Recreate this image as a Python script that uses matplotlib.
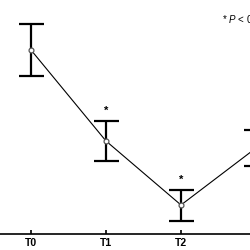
import matplotlib
matplotlib.use("Agg")
import matplotlib.pyplot as plt

plt.rcParams['font.family'] = ['Liberation Sans', 'DejaVu Sans']
plt.rcParams['mathtext.fontset'] = 'custom'
plt.rcParams['mathtext.it'] = 'Liberation Sans:italic'
plt.rcParams['mathtext.rm'] = 'Liberation Sans'

# time points and values (arbitrary units)
labels = ['T0', 'T1', 'T2', 'T3']
means = [184, 93, 29, 86]
errs = [26, 20, 15.5, 18]
signif = [False, True, True, False]

x = list(range(len(labels)))

fig = plt.figure(figsize=(2.5, 2.5), dpi=100)
ax = fig.add_axes([0, 0.064, 1, 0.936])

ax.plot(x, means, color='black', lw=0.8, zorder=2)
ax.errorbar(x, means, yerr=errs, fmt='none', ecolor='black', elinewidth=1.6,
            capsize=9, capthick=1.6, zorder=1)
ax.plot(x, means, 'o', ms=3.5, mfc='white', mec='#555555', mew=0.9, zorder=3)

for xi, m, e, s in zip(x, means, errs, signif):
    if s:
        ax.text(xi, m + e + 10, '*', ha='center', va='center', fontsize=8,
                fontweight='bold')

ax.text(2.55, 215, r'* $\it{P}$ < 0.05', ha='left', va='center', fontsize=7)

# ticks first, then limits (set_xticks would widen the view otherwise)
ax.set_xticks(x)
ax.set_xticklabels(labels, fontsize=7.5, fontweight='bold')
ax.set_xlim(-31 / 75, 219 / 75)
ax.set_ylim(0, 234)
ax.tick_params(axis='x', direction='in', length=3, width=1.2, pad=3)
ax.set_yticks([])
for s in ['left', 'top', 'right']:
    ax.spines[s].set_visible(False)
ax.spines['bottom'].set_linewidth(1.2)
ax.patch.set_alpha(0)

fig.savefig('out.png', dpi=100)
